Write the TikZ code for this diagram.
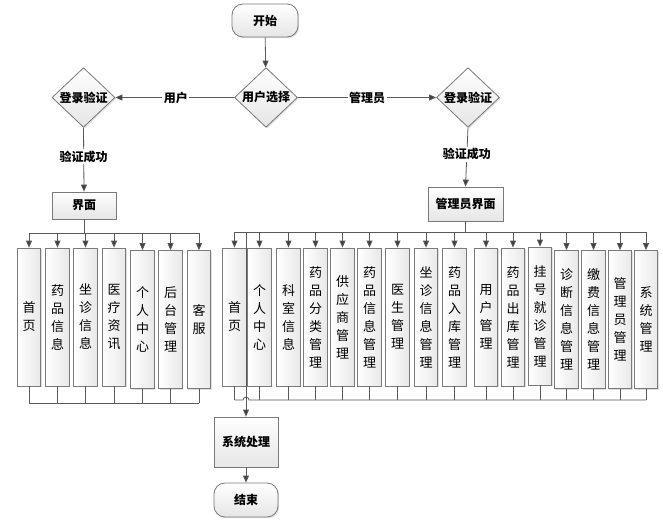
\documentclass[tikz,border=0pt]{standalone}
\usepackage{fontspec}
\setmainfont{Noto Sans CJK SC}
\usetikzlibrary{shapes.geometric,arrows.meta,shadows}
\definecolor{ln}{HTML}{5A5A5A}
\definecolor{bd}{HTML}{7A7A7A}
\definecolor{tip}{HTML}{404040}
\tikzset{
  base/.style={draw=bd, line width=0.8pt, drop shadow={shadow xshift=1.2pt, shadow yshift=-1.2pt, opacity=0.25}},
  term/.style={base, rounded corners=11pt, top color=white, bottom color=black!10, minimum width=66pt, minimum height=33pt, inner sep=0pt, font=\fontsize{12}{14}\selectfont\bfseries},
  dec/.style={base, diamond, top color=white, bottom color=black!10, minimum width=63pt, minimum height=50pt, inner sep=0pt, font=\fontsize{12}{14}\selectfont\bfseries},
  proc/.style={base, rectangle, top color=white, bottom color=black!10, inner sep=0pt, font=\fontsize{12}{14}\selectfont\bfseries},
  vbox/.style={base, rectangle, left color=white, right color=black!9, minimum width=23.5pt, minimum height=138pt, inner sep=0pt, align=center, font=\fontsize{13}{18}\selectfont},
  lbl/.style={fill=white, inner sep=1.5pt, font=\fontsize{12}{14}\selectfont\bfseries},
  ln/.style={draw=ln, line width=0.8pt},
  arr/.style={ln, -{Triangle[length=7pt,width=6pt,fill=tip]}},
}
\begin{document}
\begin{tikzpicture}[x=1pt,y=-1pt]
\useasboundingbox (0,0) rectangle (663,524);
\fill[white] (0,0) rectangle (663,524);

% top flow
\node[term] (start) at (265,20.5) {开始};
\node[dec] (choose) at (266,97.5) {用户选择};
\node[dec] (loginL) at (83.5,97.5) {登录验证};
\node[dec] (loginR) at (468,97.5) {登录验证};
\node[proc, minimum width=64pt, minimum height=27pt] (ui) at (84,205.5) {界面};
\node[proc, minimum width=75pt, minimum height=34pt] (admin) at (465.5,204) {管理员界面};
\node[proc, minimum width=64pt, minimum height=50pt] (sys) at (246,442) {系统处理};
\node[term, minimum width=64pt, minimum height=34pt] (end) at (246,500) {结束};

\draw[arr] (start) -- (choose);
\draw[arr] (choose.west) -- node[lbl, pos=0.49] {用户} (loginL.east);
\draw[arr] (choose.east) -- node[lbl, pos=0.5] {管理员} (loginR.west);
\draw[arr] (loginL.south) -- node[lbl, pos=0.45] {验证成功} (ui.north);
\draw[arr] (loginR.south) -- node[lbl, pos=0.45] {验证成功} (admin.north);

% left group
\coordinate (busL) at (0,233);
\coordinate (botL) at (0,403);
\node[vbox] (l1) at (29,317) {首\\页};
\node[vbox] (l2) at (57.5,317) {药\\品\\信\\息};
\node[vbox] (l3) at (85.5,317) {坐\\诊\\信\\息};
\node[vbox] (l4) at (114,317) {医\\疗\\资\\讯};
\node[vbox] (l5) at (142.5,319.5) {个\\人\\中\\心};
\node[vbox] (l6) at (170.5,319.5) {后\\台\\管\\理};
\node[vbox] (l7) at (199,319.5) {客\\服};

\draw[ln] (ui.south) -- (ui.south |- busL);
\draw[ln] (l1.north |- busL) -- (l7.north |- busL);
\foreach \n in {l1,l2,l3,l4,l5,l6,l7}{
  \draw[arr] (\n.north |- busL) -- (\n.north);
  \draw[ln] (\n.south) -- (\n.south |- botL);
}
\draw[ln] (l1.south |- botL) -- (l7.south |- botL);

% right group
\coordinate (busR) at (0,232);
\coordinate (botR) at (0,400);
\node[vbox] (r1) at (234.5,317) {首\\页};
\node[vbox] (r2) at (259.5,317) {个\\人\\中\\心};
\node[vbox] (r3) at (288.5,317) {科\\室\\信\\息};
\node[vbox] (r4) at (315.5,317) {药\\品\\分\\类\\管\\理};
\node[vbox] (r5) at (342.5,317) {供\\应\\商\\管\\理};
\node[vbox] (r6) at (369.5,317) {药\\品\\信\\息\\管\\理};
\node[vbox] (r7) at (397.5,317) {医\\生\\管\\理};
\node[vbox] (r8) at (426,317) {坐\\诊\\信\\息\\管\\理};
\node[vbox] (r9) at (454.5,317) {药\\品\\入\\库\\管\\理};
\node[vbox] (r10) at (486,317) {用\\户\\管\\理};
\node[vbox] (r11) at (513,317) {药\\品\\出\\库\\管\\理};
\node[vbox] (r12) at (540,316) {挂\\号\\就\\诊\\管\\理};
\node[vbox] (r13) at (566.5,319.5) {诊\\断\\信\\息\\管\\理};
\node[vbox] (r14) at (593.5,319.5) {缴\\费\\信\\息\\管\\理};
\node[vbox] (r15) at (620,319.5) {管\\理\\员\\管\\理};
\node[vbox] (r16) at (646,319.5) {系\\统\\管\\理};

\draw[ln] (admin.south) -- (admin.south |- busR);
\draw[ln] (r1.north |- busR) -- (r16.north |- busR);
\foreach \n in {r1,r2,r3,r4,r5,r6,r7,r8,r9,r10,r11,r12,r13,r14,r15,r16}{
  \draw[arr] (\n.north |- busR) -- (\n.north);
  \draw[ln] (\n.south) -- (\n.south |- botR);
}
\draw[ln] (r1.south |- botR) -- ([xshift=-3pt]sys.north |- botR)
  arc[start angle=180, end angle=0, radius=3pt] -- (r16.south |- botR);

% to system processing
\draw[arr] (sys.north |- busR) -- (sys.north);
\draw[arr] (sys) -- (end);
\end{tikzpicture}
\end{document}
